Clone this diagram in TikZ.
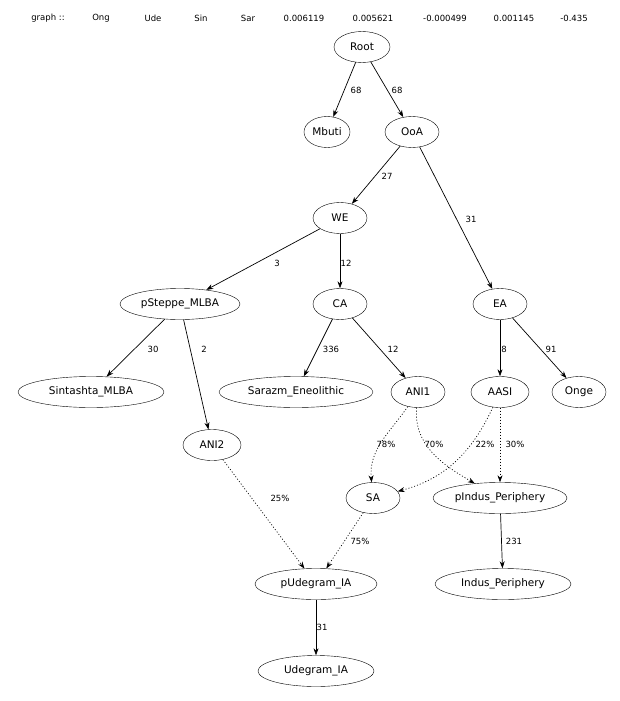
\documentclass[tikz,border=0pt]{standalone}
\usepackage{fontspec}
\setmainfont{DejaVu Sans}
\usetikzlibrary{shapes.geometric,arrows.meta}
\begin{document}
\begin{tikzpicture}[x=1pt,y=-1pt,
  nd/.style={draw,ellipse,inner sep=0pt,minimum height=31pt,font=\fontsize{10.5}{12}\selectfont},
  ed/.style={-{Stealth[length=7pt,width=5pt]},line width=0.7pt},
  dt/.style={ed,dash pattern=on 1pt off 2pt},
  lb/.style={font=\fontsize{8.5}{10}\selectfont,fill=none,inner sep=1pt},
  hd/.style={font=\fontsize{8.5}{10}\selectfont}]
\useasboundingbox (0,0) rectangle (619,701);
\fill[white] (0,0) rectangle (619,701);
\node[hd] (h0) at (48,18) {graph ::};
\node[hd] (h1) at (101,18) {Ong};
\node[hd] (h2) at (153,18) {Ude};
\node[hd] (h3) at (201,18) {Sin};
\node[hd] (h4) at (248,18) {Sar};
\node[hd] (h5) at (304,18) {0.006119};
\node[hd] (h6) at (373,18) {0.005621};
\node[hd] (h7) at (445,18) {-0.000499};
\node[hd] (h8) at (514,18) {0.001145};
\node[hd] (h9) at (574,18) {-0.435};

\node[nd,minimum width=56pt] (root) at (362,47) {Root};
\node[nd,minimum width=46pt] (mbuti) at (327,132) {Mbuti};
\node[nd,minimum width=54pt] (ooa) at (412,132) {OoA};
\node[nd,minimum width=54pt] (we) at (340,218) {WE};
\node[nd,minimum width=54pt] (ea) at (500,304) {EA};
\node[nd,minimum width=120pt] (pst) at (180,304) {pSteppe\_MLBA};
\node[nd,minimum width=54pt] (ca) at (340,304) {CA};
\node[nd,minimum width=146pt] (sin) at (91,392) {Sintashta\_MLBA};
\node[nd,minimum width=154pt] (sar) at (296,392) {Sarazm\_Eneolithic};
\node[nd,minimum width=54pt] (ani1) at (418,392) {ANI1};
\node[nd,minimum width=58pt] (aasi) at (500,392) {AASI};
\node[nd,minimum width=54pt] (onge) at (579,392) {Onge};
\node[nd,minimum width=58pt] (ani2) at (212,445) {ANI2};
\node[nd,minimum width=54pt] (sa) at (373,498) {SA};
\node[nd,minimum width=134pt] (pip) at (500,498) {pIndus\_Periphery};
\node[nd,minimum width=122pt] (pud) at (316,584) {pUdegram\_IA};
\node[nd,minimum width=136pt] (ip) at (503,584) {Indus\_Periphery};
\node[nd,minimum width=116pt] (ud) at (316,671) {Udegram\_IA};

\draw[ed] (root) -- (mbuti);
\draw[ed] (root) -- (ooa);
\draw[ed] (ooa) -- (we);
\draw[ed] (ooa) -- (ea);
\draw[ed] (we) -- (pst);
\draw[ed] (we) -- (ca);
\draw[ed] (pst) -- (sin);
\draw[ed] (pst) -- (ani2);
\draw[ed] (ca) -- (sar);
\draw[ed] (ca) -- (ani1);
\draw[ed] (ea) -- (aasi);
\draw[ed] (ea) -- (onge);
\draw[ed] (pip) -- (ip);
\draw[ed] (pud) -- (ud);
\draw[dt] (ani1) to[out=235,in=95] (sa);
\draw[dt] (ani1) to[out=265,in=150] (pip);
\draw[dt] (aasi) to[out=245,in=15] (sa);
\draw[dt] (aasi) -- (pip);
\draw[dt] (ani2) -- (pud);
\draw[dt] (sa) -- (pud);

\node[lb] (l1) at (356,90) {68};
\node[lb] (l2) at (397,90) {68};
\node[lb] (l3) at (387,176) {27};
\node[lb] (l4) at (471,219) {31};
\node[lb] (l5) at (277,263) {3};
\node[lb] (l6) at (346,263) {12};
\node[lb] (l7) at (153,349) {30};
\node[lb] (l8) at (204,349) {2};
\node[lb] (l9) at (331,349) {336};
\node[lb] (l10) at (393,349) {12};
\node[lb] (l11) at (504,349) {8};
\node[lb] (l12) at (551,349) {91};
\node[lb] (l13) at (386,444) {78\%};
\node[lb] (l14) at (434,444) {70\%};
\node[lb] (l15) at (485,444) {22\%};
\node[lb] (l16) at (515,444) {30\%};
\node[lb] (l17) at (280,498) {25\%};
\node[lb] (l18) at (360,541) {75\%};
\node[lb] (l19) at (514,541) {231};
\node[lb] (l20) at (322,627) {31};
\end{tikzpicture}
\end{document}
